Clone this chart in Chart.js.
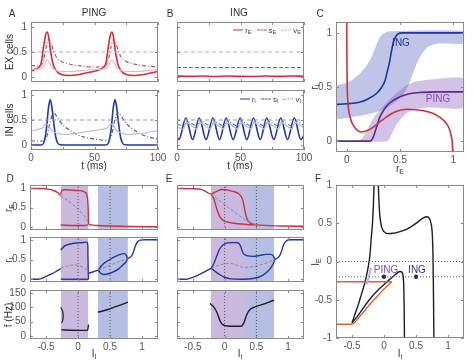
<!DOCTYPE html>
<html>
<head>
<meta charset="utf-8">
<script src="https://cdn.jsdelivr.net/npm/chart.js@4.4.1/dist/chart.umd.min.js"></script>
<style>
  html, body { margin: 0; padding: 0; background: #fff; }
  #fig { position: relative; width: 474px; height: 362px; overflow: hidden;
         font-family: "Liberation Sans", Arial, sans-serif; color: #333; }
  #fig canvas { position: absolute; }
  .t { position: absolute; font-size: 10px; line-height: 1; white-space: nowrap;
       transform: translate(-50%, -50%); }
  .t.r { transform: translate(-50%, -50%) rotate(-90deg); }
  .t sub, .lg sub { font-size: 70%; vertical-align: -0.3em; line-height: 0; }
  .lg { position: absolute; font-size: 8px; color: #444; display: flex; align-items: center;
        gap: 2px; white-space: nowrap; transform: translateY(-50%); }
  .sw { display: inline-block; width: 10px; height: 0; margin-left: 3px; }
</style>
</head>
<body>
<div id="fig"></div>
<script>
// ---------- tick values ----------
const tTicks = [0, 25, 50, 75, 100];
const tLabels = [0, 50, 100];
const unitTicks = [0, 0.5, 1];
const iTicks = [-0.5, 0, 0.5, 1];
const fTicks = [0, 50, 100, 150];
const ieTicks = [-1, -0.5, 0, 0.5, 1];

// ---------- A: PING time course ----------
const threshold = [[0, 0.5], [100, 0.5]];
const rE_ping = [[0,0.12],[3,0.15],[6,0.19],[8,0.28],[10,0.62],[11.5,0.84],[12.6,0.9],[13.8,0.82],[15.5,0.5],[17.5,0.25],[20,0.12],[24,0.05],[30,0.03],[38,0.05],[45,0.09],[51,0.12],[54,0.15],[57,0.19],[59,0.28],[61,0.62],[62.5,0.84],[63.6,0.9],[64.8,0.82],[66.5,0.5],[68.5,0.25],[71,0.12],[75,0.05],[81,0.03],[89,0.05],[96,0.09],[100,0.11]];
const sE_ping = [[0,0.23],[5,0.22],[8,0.24],[10,0.36],[12,0.6],[14,0.76],[16,0.66],[18,0.5],[20,0.4],[24,0.31],[30,0.26],[40,0.22],[50,0.2],[56,0.21],[59,0.24],[61,0.36],[63,0.6],[65,0.76],[67,0.66],[69,0.5],[71,0.4],[75,0.31],[81,0.26],[91,0.22],[100,0.2]];
const vE_ping = [[0,0.15],[6,0.16],[9,0.2],[11,0.28],[12.8,0.34],[14.5,0.28],[17,0.18],[21,0.12],[30,0.11],[45,0.14],[52,0.15],[57,0.16],[60,0.2],[62,0.28],[63.8,0.34],[65.5,0.28],[68,0.18],[72,0.12],[81,0.11],[96,0.14],[100,0.15]];
const rI_ping = [[0,0],[8,0],[10,0.04],[12,0.3],[13.8,0.75],[15.1,0.91],[16.3,0.78],[18,0.42],[19.5,0.16],[21,0.04],[23,0.005],[30,0],[59,0],[61,0.04],[63,0.3],[64.8,0.75],[66.1,0.91],[67.3,0.78],[69,0.42],[70.5,0.16],[72,0.04],[74,0.005],[80,0],[100,0]];
const sI_ping = [[0,0.08],[10,0.08],[12,0.13],[14,0.33],[16,0.55],[17.8,0.65],[19.5,0.6],[22,0.5],[26,0.38],[32,0.27],[38,0.19],[45,0.14],[52,0.11],[60,0.09],[62,0.12],[64,0.26],[66,0.5],[68.8,0.65],[70.5,0.6],[73,0.5],[77,0.38],[83,0.27],[89,0.19],[96,0.14],[100,0.12]];
const vI_ping = [[0,0.28],[5,0.31],[9,0.34],[11.5,0.42],[13.5,0.4],[16,0.3],[20,0.24],[26,0.21],[35,0.23],[45,0.27],[55,0.31],[60,0.34],[62.5,0.42],[64.5,0.4],[67,0.3],[71,0.24],[77,0.21],[86,0.23],[96,0.27],[100,0.28]];

// ---------- B: ING time course ----------
const rE_ing = [[0,0.02],[10,0.012],[20,0.02],[30,0.01],[40,0.02],[50,0.012],[60,0.01],[70,0.02],[80,0.012],[90,0.02],[100,0.015]];
const sE_ing = [[0,0.19],[100,0.19]];
const rI_ing = [[0,0.15],[1.5,0.11],[7,0.54],[12.3,0.11],[17.5,0.54],[22.9,0.11],[28.3,0.54],[33.5,0.11],[38.7,0.54],[44.2,0.11],[49.7,0.54],[55,0.11],[60.2,0.54],[65.5,0.11],[70.7,0.54],[76.2,0.11],[81.7,0.54],[87,0.11],[92.4,0.54],[97.5,0.11],[100,0.2]];
const sI_ing = [[0,0.42],[5,0.37],[8.5,0.48],[15.5,0.37],[19,0.48],[26.3,0.37],[29.8,0.48],[36.7,0.37],[40.2,0.48],[47.7,0.37],[51.2,0.48],[58.2,0.37],[61.7,0.48],[68.7,0.37],[72.2,0.48],[79.7,0.37],[83.2,0.48],[90.4,0.37],[93.9,0.48],[100,0.39]];
const vI_ing = [[0,0.36],[5,0.31],[7.5,0.46],[15.5,0.31],[18,0.46],[26.3,0.31],[28.8,0.46],[36.7,0.31],[39.2,0.46],[47.7,0.31],[50.2,0.46],[58.2,0.31],[60.7,0.46],[68.7,0.31],[71.2,0.46],[79.7,0.31],[82.2,0.46],[90.4,0.31],[92.9,0.46],[100,0.34]];

// ---------- C: phase plane ----------
const eNull = [[0,1.12],[0.002,0.8],[0.005,0.5],[0.01,0.38],[0.03,0.23],[0.06,0.15],[0.1,0.1],[0.14,0.085],[0.2,0.1],[0.25,0.13],[0.3,0.17],[0.375,0.225],[0.45,0.27],[0.56,0.295],[0.65,0.29],[0.72,0.28],[0.8,0.26],[0.875,0.22],[0.93,0.17],[0.96,0.12],[0.98,0.05],[0.99,-0.02],[0.995,-0.12]];
const ingNull = [[-0.1,0.34],[0,0.345],[0.12,0.36],[0.2,0.39],[0.28,0.44],[0.33,0.5],[0.36,0.56],[0.38,0.64],[0.4,0.72],[0.42,0.83],[0.44,0.92],[0.47,0.98],[0.52,1.0],[0.6,1.0],[1.1,1.0]];
const ingBandUp = [[-0.1,0.515],[0,0.54],[0.06,0.57],[0.12,0.62],[0.18,0.69],[0.22,0.75],[0.26,0.84],[0.3,0.94],[0.34,0.99],[0.4,1.015],[1.1,1.015]];
const ingBandLo = [[-0.1,0.2],[0.1,0.23],[0.28,0.27],[0.4,0.32],[0.48,0.38],[0.55,0.46],[0.6,0.57],[0.65,0.7],[0.7,0.8],[0.76,0.87],[0.85,0.9],[1.1,0.905]];
const pingNull = [[-0.1,0],[0.22,0],[0.25,0.04],[0.28,0.13],[0.31,0.22],[0.35,0.29],[0.4,0.35],[0.5,0.41],[0.6,0.44],[0.7,0.45],[0.85,0.455],[1.1,0.455]];
const pingBandUp = [[0.1,0],[0.14,0.02],[0.18,0.08],[0.22,0.16],[0.28,0.25],[0.35,0.33],[0.45,0.43],[0.55,0.51],[0.65,0.55],[0.8,0.57],[1.1,0.575]];
const pingBandLo = [[0.1,0],[0.38,0],[0.42,0.06],[0.46,0.14],[0.52,0.22],[0.58,0.27],[0.66,0.3],[0.8,0.31],[1.1,0.31]];

// ---------- D: bifurcation, PING parameters ----------
const pingRange = [-0.27, 0.16];
const ingRange = [0.31, 0.78];
const refI = [0, 0.5];
const dRE_st1 = [[-0.75,0.98],[-0.55,0.98],[-0.45,0.96],[-0.38,0.93],[-0.32,0.88],[-0.27,0.8]];
const dRE_un = [[-0.27,0.8],[-0.15,0.66],[0,0.46],[0.1,0.28],[0.17,0.1]];
const dRE_max = [[-0.27,0.84],[-0.25,0.94],[-0.2,0.95],[-0.1,0.94],[0,0.93],[0.08,0.91],[0.13,0.86],[0.15,0.72],[0.16,0.4],[0.165,0.08]];
const dRE_min = [[-0.27,0.06],[-0.2,0.05],[0,0.045],[0.1,0.045],[0.165,0.06]];
const dRE_st2 = [[0.165,0.07],[0.3,0.045],[0.5,0.03],[0.8,0.018],[1.25,0.012]];
const dRI_st1 = [[-0.75,0],[-0.62,0],[-0.57,0.02],[-0.5,0.07],[-0.42,0.13],[-0.35,0.19],[-0.27,0.27]];
const dRI_un1 = [[-0.27,0.28],[-0.18,0.33],[-0.08,0.36],[0,0.35],[0.07,0.31],[0.12,0.26],[0.17,0.17]];
const dRI_max = [[-0.27,0.74],[-0.2,0.85],[-0.1,0.9],[0,0.92],[0.08,0.93],[0.145,0.93],[0.155,0.6],[0.16,0.2],[0.165,0]];
const dRI_min = [[-0.27,0],[0.165,0]];
const dRI_st2 = [[0.165,0.15],[0.24,0.19],[0.32,0.23]];
const dRI_cycUp = [[0.32,0.23],[0.36,0.33],[0.42,0.42],[0.5,0.5],[0.58,0.57],[0.66,0.63],[0.72,0.65],[0.755,0.61],[0.775,0.52]];
const dRI_cycLo = [[0.32,0.23],[0.35,0.16],[0.41,0.12],[0.48,0.14],[0.56,0.19],[0.64,0.27],[0.7,0.36],[0.75,0.44],[0.775,0.52]];
const dRI_un2 = [[0.32,0.23],[0.45,0.32],[0.6,0.42],[0.775,0.52]];
const dRI_st3 = [[0.775,0.52],[0.83,0.58],[0.86,0.66],[0.88,0.76],[0.9,0.86],[0.93,0.95],[0.97,0.99],[1.05,1.0],[1.25,1.0]];
const dF1 = [[-0.27,100],[-0.25,92],[-0.235,80],[-0.232,68],[-0.24,55],[-0.255,46]];
const dF2 = [[-0.26,22],[-0.2,21],[0,20],[0.1,20],[0.15,21],[0.158,30],[0.165,40]];
const dF3 = [[0.31,83],[0.4,88],[0.5,95],[0.6,103],[0.7,111],[0.78,118]];

// ---------- E: bifurcation, ING parameters ----------
const eRange = [-0.22, 0.78];
const eRE_st1 = [[-0.75,0.98],[-0.45,0.975],[-0.37,0.96],[-0.3,0.91],[-0.25,0.86],[-0.21,0.84]];
const eRE_max = [[-0.21,0.84],[-0.16,0.88],[-0.1,0.93],[-0.05,0.955],[0.05,0.94],[0.15,0.9],[0.22,0.85],[0.26,0.78],[0.29,0.66],[0.32,0.42],[0.35,0.22],[0.4,0.11],[0.48,0.07]];
const eRE_min = [[-0.21,0.84],[-0.17,0.72],[-0.13,0.5],[-0.08,0.28],[-0.03,0.18],[0.05,0.13],[0.2,0.09],[0.35,0.07],[0.48,0.06]];
const eRE_un = [[-0.21,0.84],[0,0.57],[0.2,0.33],[0.35,0.16],[0.48,0.07]];
const eRE_st2 = [[0.48,0.06],[0.7,0.04],[0.9,0.03],[1.25,0.025]];
const eRI_st1 = [[-0.75,0],[-0.6,0],[-0.55,0.02],[-0.45,0.08],[-0.35,0.16],[-0.28,0.22],[-0.21,0.28]];
const eRI_max = [[-0.21,0.28],[-0.17,0.4],[-0.12,0.6],[-0.08,0.76],[-0.03,0.86],[0.05,0.92],[0.18,0.93],[0.23,0.9],[0.26,0.8],[0.29,0.66],[0.35,0.6],[0.45,0.58],[0.55,0.6],[0.65,0.63],[0.73,0.63],[0.77,0.58],[0.79,0.5]];
const eRI_min = [[-0.21,0.28],[-0.15,0.2],[-0.08,0.12],[0,0.05],[0.1,0.01],[0.25,0],[0.45,0.02],[0.6,0.1],[0.68,0.2],[0.74,0.32],[0.78,0.45],[0.79,0.5]];
const eRI_un = [[-0.21,0.28],[-0.1,0.35],[0,0.39],[0.1,0.4],[0.2,0.35],[0.3,0.3],[0.45,0.32],[0.6,0.38],[0.79,0.5]];
const eRI_st2 = [[0.79,0.5],[0.85,0.56],[0.89,0.68],[0.93,0.88],[0.97,0.97],[1.03,1.0],[1.25,1.0]];
const eF = [[-0.23,113],[-0.18,103],[-0.12,82],[-0.07,52],[-0.02,38],[0.05,35],[0.15,34],[0.26,34],[0.3,45],[0.35,75],[0.4,92],[0.5,103],[0.6,110],[0.7,118],[0.78,125]];

// ---------- F: two-parameter diagram ----------
const fBlackL = [[-0.5,-0.8],[-0.45,-0.68],[-0.4,-0.56],[-0.35,-0.42],[-0.3,-0.28],[-0.26,-0.13],[-0.22,0.08],[-0.2,0.3],[-0.18,0.5],[-0.165,0.75],[-0.155,1.02]];
const fBlackM = [[-0.09,1.02],[-0.08,0.8],[-0.065,0.6],[-0.04,0.46],[0,0.39],[0.06,0.365],[0.15,0.37],[0.25,0.39],[0.35,0.42],[0.45,0.47],[0.55,0.53],[0.62,0.575],[0.67,0.585],[0.71,0.56],[0.74,0.48],[0.755,0.35],[0.765,0.1],[0.77,-0.2],[0.775,-0.6],[0.78,-1.02]];
const fBlackR = [[-0.5,-0.8],[-0.4,-0.7],[-0.3,-0.58],[-0.2,-0.47],[-0.1,-0.38],[0,-0.3],[0.08,-0.24],[0.15,-0.19],[0.2,-0.155],[0.25,-0.13],[0.28,-0.14],[0.3,-0.2],[0.31,-0.35],[0.315,-0.6],[0.32,-1.02]];
const fOrangeDiag = [[-0.75,-0.82],[-0.5,-0.82],[-0.45,-0.79],[-0.4,-0.74],[-0.3,-0.64],[-0.2,-0.54],[-0.1,-0.45],[0,-0.36],[0.1,-0.28],[0.12,-0.265]];
const fOrangeTop = [[-0.75,-0.265],[0.12,-0.265]];
const fPingPath = [[-0.27,-0.3],[-0.2,-0.08]];
const fRefE = [0, -0.2];
const fMarks = [[0,-0.2],[0.5,-0.2]];

// ---------- colours ----------
const RED = '#cf2f3d', RED_DD = '#c2505e', PINK = '#f0b4bd', RED_TH = '#dd9aa8';
const BLUE = '#2537a0', BLUE_DD = '#555c98', BLUE_LT = '#b4bbe5', BLUE_TH = '#8f93d0';
const ING_C = '#22349a', PING_C = '#5b2a8c', PING_T = '#8a4fb0';
const UNST = '#8f8199', BLACK = '#1d1d2b', ORANGE = '#e0602a';
const SHADE_P = 'rgba(150,115,192,0.5)', SHADE_B = 'rgba(110,125,200,0.5)';

Chart.defaults.font.family = '"Liberation Sans", Arial, sans-serif';
Chart.defaults.font.size = 10;
Chart.defaults.color = '#555';

const fig = document.getElementById('fig');
const ML = 40, MR = 16, MT = 10, MB = 24;

// box + inward tick marks, matlab style
const frame = {
  id: 'frame',
  afterDraw(chart) {
    const { ctx, chartArea: a, scales } = chart;
    ctx.save();
    ctx.strokeStyle = '#8a8a8a';
    ctx.lineWidth = 1;
    ctx.strokeRect(a.left + 0.5, a.top + 0.5, a.right - a.left - 1, a.bottom - a.top - 1);
    ctx.beginPath();
    scales.x.ticks.forEach(t => {
      const p = Math.round(scales.x.getPixelForValue(t.value)) + 0.5;
      ctx.moveTo(p, a.bottom); ctx.lineTo(p, a.bottom - 3);
      ctx.moveTo(p, a.top); ctx.lineTo(p, a.top + 3);
    });
    scales.y.ticks.forEach(t => {
      const p = Math.round(scales.y.getPixelForValue(t.value)) + 0.5;
      ctx.moveTo(a.left, p); ctx.lineTo(a.left + 3, p);
      ctx.moveTo(a.right, p); ctx.lineTo(a.right - 3, p);
    });
    ctx.stroke();
    ctx.restore();
  }
};

function scale(min, max, ticks, labels, size, isY) {
  return {
    type: 'linear', min, max,
    afterBuildTicks: s => { s.ticks = ticks.map(v => ({ value: v })); },
    afterFit: s => { if (isY) s.width = size; else s.height = size; },
    grid: { display: false, drawTicks: false },
    border: { display: false },
    ticks: {
      display: !!labels, padding: isY ? 4 : 2, autoSkip: false, maxRotation: 0,
      callback: v => (labels && labels.includes(v)) ? String(v) : ''
    }
  };
}

function panel(box, xs, ys, datasets) {
  const [x0, y0, x1, y1] = box;
  const cv = document.createElement('canvas');
  cv.width = x1 - x0 + ML + MR;
  cv.height = y1 - y0 + MT + MB;
  cv.style.left = (x0 - ML) + 'px';
  cv.style.top = (y0 - MT) + 'px';
  fig.appendChild(cv);
  return new Chart(cv, {
    type: 'scatter',
    data: { datasets },
    options: {
      responsive: false, animation: false, devicePixelRatio: 1, events: [],
      layout: { padding: { left: 0, top: MT, right: MR, bottom: 0 } },
      scales: { x: scale(...xs, MB, false), y: scale(...ys, ML, true) },
      plugins: { legend: { display: false }, tooltip: { enabled: false } }
    },
    plugins: [frame]
  });
}

// line dataset; mode 'm' = monotone cubic, 'l' = straight, number = bezier tension
function ln(pts, color, width, dash, mode) {
  const m = mode === undefined ? 'm' : mode;
  return {
    data: pts.map(p => ({ x: p[0], y: p[1] })),
    showLine: true, borderColor: color, borderWidth: width, borderDash: dash || [],
    pointRadius: 0, fill: false,
    cubicInterpolationMode: m === 'm' ? 'monotone' : 'default',
    tension: typeof m === 'number' ? m : 0
  };
}
function shade(range, top, color) {
  return { data: [{ x: range[0], y: top }, { x: range[1], y: top }], showLine: true,
    borderWidth: 0, pointRadius: 0, fill: 'start', backgroundColor: color, order: 5 };
}
function band(up, lo, color) {
  const pts = up.concat(lo.slice().reverse());
  return { data: pts.map(p => ({ x: p[0], y: p[1] })), showLine: true, borderWidth: 0,
    pointRadius: 0, fill: 'shape', backgroundColor: color, tension: 0.2, order: 5 };
}
function vlines(xs, lo, hi) {
  return xs.map(x => ln([[x, lo], [x, hi]], '#555', 1, [1, 2], 'l'));
}
function hlines(ys, lo, hi) {
  return ys.map(y => ln([[lo, y], [hi, y]], '#666', 1, [1, 2], 'l'));
}
const DD = [4, 2, 1, 2], DASH = [4, 3];

// ---- A ----
const tAxis = [0, 100, tTicks, null];
const tAxisL = [0, 100, tTicks, tLabels];
panel([31, 22, 158, 82], tAxis, [-0.1, 1.1, unitTicks, unitTicks], [
  ln(threshold, RED_TH, 1, DASH, 'l'),
  ln(vE_ping, PINK, 1.2),
  ln(sE_ping, RED_DD, 1.2, DD),
  ln(rE_ping, RED, 1.6)
]);
panel([31, 90, 158, 150], tAxisL, [-0.1, 1.1, unitTicks, unitTicks], [
  ln(threshold, BLUE_TH, 1, DASH, 'l'),
  ln(vI_ping, BLUE_LT, 1.2),
  ln(sI_ping, BLUE_DD, 1.2, DD),
  ln(rI_ping, BLUE, 1.6)
]);

// ---- B ----
panel([177, 22, 304, 82], tAxis, [-0.1, 1.1, unitTicks, null], [
  ln(threshold, RED_TH, 1, DASH, 'l'),
  ln(sE_ing, '#d04454', 1.2, [4, 2], 'l'),
  ln(rE_ing, RED, 1.6)
]);
panel([177, 90, 304, 150], tAxisL, [-0.1, 1.1, unitTicks, null], [
  ln(threshold, BLUE_TH, 1, DASH, 'l'),
  ln(vI_ing, BLUE_LT, 1.2, [], 'l'),
  ln(sI_ing, '#6b71a8', 1.1, DD, 'l'),
  ln(rI_ing, BLUE, 1.6)
]);

// ---- C ----
panel([336, 22, 464, 152], [-0.1, 1.1, unitTicks, unitTicks], [-0.1, 1.1, unitTicks, unitTicks], [
  band(ingBandUp, ingBandLo, 'rgba(105,115,200,0.42)'),
  band(pingBandUp, pingBandLo, 'rgba(150,110,195,0.42)'),
  ln(eNull, '#d4303c', 1.6),
  ln(pingNull, PING_C, 1.6),
  ln(ingNull, ING_C, 1.6)
]);

// ---- D ----
const iAxis = [-0.75, 1.25, iTicks, null];
const iAxisL = [-0.75, 1.25, iTicks, iTicks];
const rAxisL = [-0.07, 1.07, unitTicks, unitTicks];
const dShades = top => [shade(pingRange, top, SHADE_P), shade(ingRange, top, SHADE_B)];
panel([30, 185, 158, 230], iAxis, rAxisL, [
  ...dShades(1.07), ...vlines(refI, -0.07, 1.07),
  ln(dRE_un, UNST, 1, [3, 2]),
  ln(dRE_st1, RED, 1.4), ln(dRE_max, RED, 1.4, [], 0.3), ln(dRE_min, RED, 1.4),
  ln(dRE_st2, RED, 1.4)
]);
panel([30, 237, 158, 282], iAxis, rAxisL, [
  ...dShades(1.07), ...vlines(refI, -0.07, 1.07),
  ln(dRI_un1, UNST, 1, [3, 2]), ln(dRI_un2, UNST, 1, [3, 2]),
  ln(dRI_st1, BLUE, 1.4), ln(dRI_max, BLUE, 1.4, [], 0.3), ln(dRI_min, BLUE, 1.4, [], 'l'),
  ln(dRI_st2, BLUE, 1.4), ln(dRI_cycUp, BLUE, 1.4), ln(dRI_cycLo, BLUE, 1.4),
  ln(dRI_st3, BLUE, 1.4)
]);
panel([30, 290, 158, 339], iAxisL, [-10, 160, fTicks, fTicks], [
  ...dShades(160), ...vlines(refI, -10, 160),
  ln(dF1, BLACK, 1.2, [], 0.35), ln(dF2, BLACK, 1.4), ln(dF3, BLACK, 1.4)
]);

// ---- E ----
function gradShade(top) {
  return {
    data: [{ x: eRange[0], y: top }, { x: eRange[1], y: top }], showLine: true,
    borderWidth: 0, pointRadius: 0, fill: 'start', order: 5,
    backgroundColor: ctx => {
      const ch = ctx.chart;
      if (!ch.chartArea) return SHADE_P;
      const xs = ch.scales.x;
      const g = ch.ctx.createLinearGradient(xs.getPixelForValue(eRange[0]), 0, xs.getPixelForValue(eRange[1]), 0);
      g.addColorStop(0, SHADE_P); g.addColorStop(0.45, SHADE_P);
      g.addColorStop(0.65, SHADE_B); g.addColorStop(1, SHADE_B);
      return g;
    }
  };
}
const rAxis = [-0.07, 1.07, unitTicks, null];
panel([177, 185, 304, 230], iAxis, rAxis, [
  gradShade(1.07), ...vlines(refI, -0.07, 1.07),
  ln(eRE_un, UNST, 1, [3, 2]),
  ln(eRE_st1, RED, 1.4), ln(eRE_max, RED, 1.4), ln(eRE_min, RED, 1.4), ln(eRE_st2, RED, 1.4)
]);
panel([177, 237, 304, 282], iAxis, rAxis, [
  gradShade(1.07), ...vlines(refI, -0.07, 1.07),
  ln(eRI_un, UNST, 1, [3, 2]),
  ln(eRI_st1, BLUE, 1.4), ln(eRI_max, BLUE, 1.4), ln(eRI_min, BLUE, 1.4), ln(eRI_st2, BLUE, 1.4)
]);
panel([177, 290, 304, 339], iAxisL, [-10, 160, fTicks, null], [
  gradShade(160), ...vlines(refI, -10, 160),
  ln(eF, BLACK, 1.4)
]);

// ---- F ----
panel([336, 185, 464, 338], iAxisL, [-1, 1, ieTicks, ieTicks], [
  ...hlines(fRefE, -0.75, 1.25),
  ln(fPingPath, '#c8b0e0', 2, [], 'l'),
  ln(fOrangeTop, ORANGE, 1.4, [], 'l'),
  ln(fOrangeDiag, ORANGE, 1.4),
  ln(fBlackL, BLACK, 1.4), ln(fBlackM, BLACK, 1.4), ln(fBlackR, BLACK, 1.4),
  { data: fMarks.map(p => ({ x: p[0], y: p[1] })), pointRadius: 2.2,
    pointBackgroundColor: '#1d2a6a', pointBorderWidth: 0, showLine: false }
]);

// ---------- text ----------
function label(html, x, y, opt) {
  const o = opt || {};
  const d = document.createElement('div');
  d.className = 't' + (o.rot ? ' r' : '');
  d.innerHTML = html;
  d.style.left = x + 'px'; d.style.top = y + 'px';
  if (o.color) d.style.color = o.color;
  if (o.size) d.style.fontSize = o.size + 'px';
  fig.appendChild(d);
}
label('A', 12, 14);
label('PING', 94, 13);
label('B', 170, 14);
label('ING', 239, 13);
label('C', 320, 14);
label('D', 10, 179);
label('E', 169, 179);
label('F', 318, 179);
label('EX cells', 10, 52, { rot: 1 });
label('IN cells', 10, 120, { rot: 1 });
label('t (ms)', 94, 166);
label('t (ms)', 240, 166);
label('r<sub>E</sub>', 400, 169);
label('r<sub>I</sub>', 315, 87, { rot: 1 });
label('ING', 401, 43, { color: ING_C });
label('PING', 438, 99, { color: PING_T });
label('r<sub>E</sub>', 9, 208, { rot: 1 });
label('r<sub>I</sub>', 9, 260, { rot: 1 });
label('f (Hz)', 9, 315, { rot: 1 });
label('I<sub>I</sub>', 94, 354);
label('I<sub>I</sub>', 240, 354);
label('I<sub>I</sub>', 400, 354);
label('I<sub>E</sub>', 316, 262, { rot: 1 });
label('PING', 386, 270, { color: PING_T });
label('ING', 417, 270, { color: '#2a3a8a' });

function legend(items, right, y) {
  const d = document.createElement('div');
  d.className = 'lg';
  d.style.right = right + 'px'; d.style.top = y + 'px';
  items.forEach(([name, style]) => {
    const s = document.createElement('span');
    s.className = 'sw'; s.style.borderTop = style;
    d.appendChild(s);
    const t = document.createElement('span');
    t.innerHTML = name;
    d.appendChild(t);
  });
  fig.appendChild(d);
}
legend([['r<sub>E</sub>', '1.5px solid ' + RED], ['s<sub>E</sub>', '1px dashed ' + RED_DD], ['v<sub>E</sub>', '1px dotted ' + RED_TH]], 173, 30);
legend([['r<sub>I</sub>', '1.5px solid ' + BLUE], ['s<sub>I</sub>', '1px dashed ' + BLUE_DD], ['v<sub>I</sub>', '1px dotted ' + BLUE_TH]], 173, 99);
</script>
</body>
</html>
